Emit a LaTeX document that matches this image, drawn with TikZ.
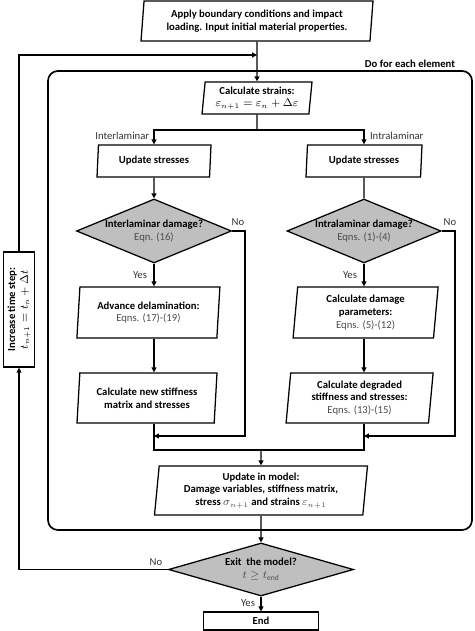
\documentclass[tikz,border=0pt]{standalone}
\usepackage{fontspec}
\setmainfont{Carlito}
\usetikzlibrary{shapes.geometric,arrows.meta}
\newcommand{\chartfont}{\fontsize{7.6}{9}\selectfont}
\newcommand{\eqnote}[1]{{\mdseries\color{black!70}#1}}

\begin{document}
\begin{tikzpicture}[style=thick, line width=0.9pt, >={Triangle[length=3.5pt,width=3.5pt]},
    process/.style={draw, trapezium, trapezium left angle=83, trapezium right angle=97,
        trapezium stretches body, align=center, inner sep=1pt, font=\chartfont\bfseries},
    test/.style={draw, diamond, aspect=2.4, fill=gray!50, align=center, inner sep=0pt,
        font=\chartfont\bfseries},
    plain/.style={draw, rectangle, align=center, inner sep=1pt, font=\chartfont\bfseries},
    tag/.style={font=\chartfont, text=black!80, inner sep=1pt}]
    \useasboundingbox (0,0) rectangle (11.85,15.775);

% start and loop frame
    \node[process, minimum width=5.8cm, minimum height=1cm] (init) at (6.425,15.25)
        {Apply boundary conditions and impact\\loading. Input initial material properties.};
    \draw[line width=1.2pt, rounded corners=7pt] (1.2,2.525) rectangle (11.8,14.0);
    \node[font=\chartfont\bfseries] (each) at (10.25,14.175) {Do for each element};

    \node[process, minimum width=2.75cm, minimum height=0.8cm] (strain) at (6.425,13.325)
        {Calculate strains:\\ $\varepsilon_{n+1}=\varepsilon_n+\Delta\varepsilon$};

    \coordinate (back) at (6.425,14.4);
    \coordinate (split) at (6.425,12.525);

% interlaminar branch
    \node[process, minimum width=2.85cm, minimum height=0.8cm] (updL) at (3.85,11.75) {Update stresses};
    \node[test, minimum width=3.875cm, minimum height=1.6cm] (dmgL) at (3.85,10.0)
        {Interlaminar damage?\\ \eqnote{Eqn. (16)}};
    \node[process, minimum width=3.575cm, minimum height=1.275cm] (delam) at (3.71,7.9625)
        {Advance delamination:\\ \eqnote{Eqns. (17)-(19)}};
    \node[process, minimum width=3.5cm, minimum height=1.25cm] (stiffL) at (3.675,5.825)
        {Calculate new stiffness\\matrix and stresses};

% intralaminar branch
    \node[process, minimum width=2.9cm, minimum height=0.8cm] (updR) at (9.1,11.75) {Update stresses};
    \node[test, minimum width=3.85cm, minimum height=1.6cm] (dmgR) at (9.1,10.0)
        {Intralaminar damage?\\ \eqnote{Eqns. (1)-(4)}};
    \node[process, minimum width=3.625cm, minimum height=1.275cm] (dmgpar) at (9.14,7.9625)
        {Calculate damage\\parameters:\\ \eqnote{Eqns. (5)-(12)}};
    \node[process, minimum width=3.675cm, minimum height=1.25cm] (stiffR) at (8.99,5.825)
        {Calculate degraded\\stiffness and stresses:\\ \eqnote{Eqns. (13)-(15)}};

    \coordinate (noL) at (6.125,4.875);
    \coordinate (noR) at (11.375,4.875);
    \coordinate (joinL) at (3.85,4.525);
    \coordinate (join) at (6.525,4.525);
    \coordinate (joinR) at (9.1,4.525);

% model update and exit
    \node[process, minimum width=5.325cm, minimum height=1.225cm] (model) at (6.525,3.5125)
        {Update in model:\\Damage variables, stiffness matrix,\\
        stress \eqnote{$\sigma_{n+1}$} and strains \eqnote{$\varepsilon_{n+1}$}};
    \node[test, aspect=3.5, minimum width=4.625cm, minimum height=1.325cm] (exit) at (6.525,1.5375)
        {Exit\ \ the model?\\ \eqnote{$t\geq t_{\mathrm{end}}$}};
    \node[plain, minimum width=2.875cm, minimum height=0.45cm] (end) at (6.525,0.25) {End};
    \node[plain, rotate=90, minimum width=2.875cm, minimum height=0.775cm] (time) at (0.475,8.0375)
        {Increase time step:\\ $t_{n+1}=t_n+\Delta t$};

% connectors
    \draw[->] (init) -- (strain);
    \draw (strain) -- (split);
    \draw[->] (split) -| (updL);
    \draw[->] (split) -| (updR);
    \node[tag, anchor=east] (inter) at (3.78,12.375) {Interlaminar};
    \node[tag, anchor=west] (intra) at (9.2,12.375) {Intralaminar};

    \draw[->] (updL) -- (dmgL);
    \draw (updR) -- (dmgR);
    \draw[->] (dmgL) -- (dmgL.south |- delam.north);
    \draw[->] (dmgR) -- (dmgR.south |- dmgpar.north);
    \node[tag] (yesL) at (3.5,8.9) {Yes};
    \node[tag] (yesR) at (8.75,8.9) {Yes};
    \draw[->] (delam.south -| joinL) -- (stiffL.north -| joinL);
    \draw[->] (dmgpar.south -| joinR) -- (stiffR.north -| joinR);

    \draw[->] (dmgL.east) -| (noL) -- (noL -| joinL);
    \draw[->] (dmgR.east) -| (noR) -- (noR -| joinR);
    \node[tag] (noLtag) at (5.95,10.225) {No};
    \node[tag] (noRtag) at (11.25,10.225) {No};

    \draw (stiffL.south -| joinL) -- (joinL) -- (joinR) -- (stiffR.south -| joinR);
    \draw[->] (join) -- (model);
    \draw[->] (model) -- (exit);
    \draw[->] (exit) -- (end);
    \node[tag] (yesX) at (6.2,0.7) {Yes};
    \draw[->] (exit.west) -| (time);
    \node[tag] (noX) at (3.9,1.725) {No};
    \draw[->] (time) |- (back);

\end{tikzpicture}
\end{document}
